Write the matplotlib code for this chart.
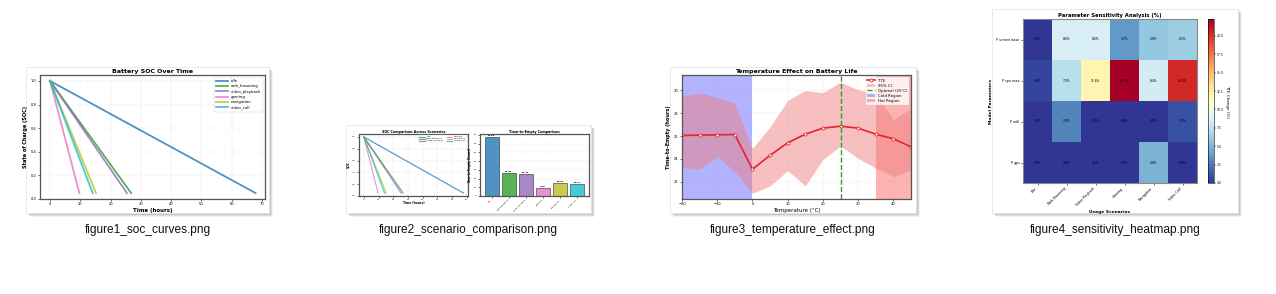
# File browser view with four chart thumbnails
import numpy as np
import matplotlib
matplotlib.use("Agg")
import matplotlib.pyplot as plt
from matplotlib.patches import Rectangle

W, H = 1276, 294

# Data
scenarios = ['idle', 'web_browsing', 'video_playback', 'gaming', 'navigation', 'video_call']
scenario_names = ['Idle', 'Web Browsing', 'Video Playback', 'Gaming', 'Navigation', 'Video Call']
tte_hours = [67.9, 26.8, 25.4, 9.7, 15.2, 14.1]
soc_start = 1.0
soc_end = 0.05
colors = ['#1f77b4', '#2ca02c', '#9467bd', '#e377c2', '#bcbd22', '#17becf']

temps = [-20, -15, -10, -5, 0, 5, 10, 15, 20, 25, 30, 35, 40, 45]
tte_temp = [26.06, 26.09, 26.12, 26.14, 23.1, 24.32, 25.42, 26.17, 26.7, 26.87, 26.7, 26.17, 25.77, 25.07]
ci_high = [29.48, 29.8, 29.36, 28.9, 24.93, 26.81, 29.13, 30.0, 29.8, 30.72, 30.06, 29.71, 27.45, 28.41]
ci_low = [23.25, 23.1, 24.2, 22.9, 21.0, 21.65, 22.99, 21.65, 23.97, 25.13, 24.06, 23.19, 22.46, 23.04]

params = ['P screen base', 'P cpu max', 'P wifi', 'P gps']
sens = [[0.0, 8.6, 8.6, 3.7, 5.8, 6.1],
        [0.6, 7.3, 11.8, 22.3, 8.4, 20.3],
        [0.0, 2.9, 0.0, 0.0, 0.0, 1.0],
        [0.0, 0.0, 0.0, 0.0, 4.8, 0.0]]

files = ['figure1_soc_curves.png', 'figure2_scenario_comparison.png',
         'figure3_temperature_effect.png', 'figure4_sensitivity_heatmap.png']

# thumbnail cards (pixel boxes: left, top, right, bottom)
cards = [(26, 67, 269, 213), (346, 125, 591, 213), (670, 67, 916, 213), (992, 9, 1238, 213)]

fig = plt.figure(figsize=(W / 100, H / 100), dpi=100)
fig.patch.set_facecolor('white')


def frac(x0, y0, x1, y1):
    return [x0 / W, 1 - y1 / H, (x1 - x0) / W, (y1 - y0) / H]


def card(x0, y0, x1, y1):
    for k, a in [(4, 0.05), (3, 0.08), (2, 0.10), (1, 0.12)]:
        fig.add_artist(Rectangle(((x0 + k) / W, 1 - (y1 + k) / H), (x1 - x0) / W, (y1 - y0) / H,
                                 transform=fig.transFigure, facecolor='black', alpha=a,
                                 edgecolor='none', zorder=-3))
    fig.add_artist(Rectangle((x0 / W, 1 - y1 / H), (x1 - x0) / W, (y1 - y0) / H,
                             transform=fig.transFigure, facecolor='white',
                             edgecolor='#e6e6e6', lw=0.6, zorder=-2))


def style(ax, size=2.6):
    ax.tick_params(labelsize=size, length=1.5, width=0.4, pad=1)
    for s in ax.spines.values():
        s.set_color('#555555')
        s.set_linewidth(0.9)
    ax.grid(True, ls='--', lw=0.3, alpha=0.4)


for c in cards:
    card(*c)

# Figure 1: SOC curves
ax1 = fig.add_axes(frac(40, 75, 265, 199))
for name, t_end, c in zip(scenarios, tte_hours, colors):
    ax1.plot([0, t_end], [soc_start, soc_end], color=c, lw=1.3, alpha=0.8, label=name)
ax1.set_xlim(-3.3, 71)
ax1.set_ylim(0, 1.05)
ax1.set_xticks(range(0, 80, 10))
ax1.set_yticks(np.arange(0, 1.01, 0.2))
style(ax1)
ax1.set_title('Battery SOC Over Time', fontsize=4.5, fontweight='bold', pad=1.5)
ax1.set_xlabel('Time (hours)', fontsize=4, fontweight='bold', labelpad=1)
ax1.set_ylabel('State of Charge (SOC)', fontsize=3.6, fontweight='bold', labelpad=2)
ax1.legend(loc='upper right', fontsize=2.8, handlelength=3, frameon=True, borderpad=0.5,
           labelspacing=0.35, framealpha=0.9, edgecolor='#cccccc').get_frame().set_linewidth(0.3)

# Figure 2: scenario comparison
ax2a = fig.add_axes(frac(359, 134, 468, 196))
for name, t_end, c in zip(scenario_names, tte_hours, colors):
    ax2a.plot([0, t_end], [soc_start, soc_end], color=c, lw=0.8, alpha=0.8, label=name)
ax2a.set_xlim(-3.3, 71)
ax2a.set_ylim(0, 1.05)
ax2a.set_xticks(range(0, 80, 10))
ax2a.set_yticks(np.arange(0, 1.01, 0.2))
style(ax2a, 1.6)
ax2a.set_title('SOC Comparison Across Scenarios', fontsize=2.4, fontweight='bold', pad=1)
ax2a.set_xlabel('Time (hours)', fontsize=2.2, fontweight='bold', labelpad=0.5)
ax2a.set_ylabel('SOC', fontsize=2.2, fontweight='bold', labelpad=1)
ax2a.legend(loc='upper right', ncol=2, fontsize=1.6, handlelength=2.5, borderpad=0.3,
            labelspacing=0.2, columnspacing=1.5, edgecolor='#cccccc').get_frame().set_linewidth(0.2)

ax2b = fig.add_axes(frac(480, 134, 589, 196))
xs = np.arange(len(scenario_names))
bars = ax2b.bar(xs, tte_hours, color=colors, alpha=0.8, edgecolor='black', lw=0.4, width=0.8)
for b, v in zip(bars, tte_hours):
    ax2b.text(b.get_x() + b.get_width() / 2, v + 0.5, f'{v:.2f}', ha='center', va='bottom',
              fontsize=1.6, fontweight='bold')
ax2b.set_xticks(xs)
ax2b.set_xticklabels(scenario_names, rotation=45, ha='right')
ax2b.set_ylim(0, 71)
style(ax2b, 1.6)
ax2b.grid(axis='x', visible=False)
ax2b.set_title('Time-to-Empty Comparison', fontsize=2.4, fontweight='bold', pad=1)
ax2b.set_ylabel('Time-to-Empty (hours)', fontsize=2.0, fontweight='bold', labelpad=1)

# Figure 3: temperature effect
ax3 = fig.add_axes(frac(682, 75, 911, 199))
h_cold = ax3.axvspan(-20, 0, color='blue', alpha=0.3, lw=0, label='Cold Region')
h_hot = ax3.axvspan(35, 45, color='red', alpha=0.3, lw=0, label='Hot Region')
h_ci = ax3.fill_between(temps, ci_low, ci_high, color='lightcoral', alpha=0.5, lw=0, label='95% CI')
h_line, = ax3.plot(temps, tte_temp, 'o-', color='#e3262c', lw=1.2, ms=2.2, mfc='white',
                   mec='#e3262c', mew=0.6, label='TTE')
h_opt = ax3.axvline(25, color='#2ca02c', ls='--', lw=1.0, label='Optimal (25°C)')
ax3.set_xlim(-20, 45)
ax3.set_ylim(20.5, 31.35)
ax3.set_xticks(range(-20, 50, 10))
ax3.set_yticks([22, 24, 26, 28, 30])
style(ax3)
ax3.set_title('Temperature Effect on Battery Life', fontsize=4.5, fontweight='bold', pad=1.5)
ax3.set_xlabel('Temperature (°C)', fontsize=4, labelpad=1)
ax3.set_ylabel('Time-to-Empty (hours)', fontsize=3.6, fontweight='bold', labelpad=2)
ax3.legend(handles=[h_line, h_ci, h_opt, h_cold, h_hot], loc='upper right', fontsize=2.8,
           borderpad=0.4, labelspacing=0.3, edgecolor='#cccccc').get_frame().set_linewidth(0.3)

# Figure 4: sensitivity heatmap
ax4 = fig.add_axes(frac(1023, 19, 1197, 183))
vals = np.array(sens)
im = ax4.imshow(vals, cmap='RdYlBu_r', vmin=0, vmax=22.3, aspect='auto')
for i in range(vals.shape[0]):
    for j in range(vals.shape[1]):
        ax4.text(j, i, f'{vals[i, j]:.1f}%', ha='center', va='center', fontsize=2.2)
ax4.set_xticks(range(len(scenario_names)))
ax4.set_xticklabels(scenario_names, rotation=45, ha='right')
ax4.set_yticks(range(len(params)))
ax4.set_yticklabels(params)
ax4.tick_params(labelsize=2.4, length=1.5, width=0.4, pad=1)
for s in ax4.spines.values():
    s.set_color('#888888')
    s.set_linewidth(0.8)
ax4.set_title('Parameter Sensitivity Analysis (%)', fontsize=3.8, fontweight='bold', pad=1.5)
ax4.set_xlabel('Usage Scenarios', fontsize=3.2, fontweight='bold', labelpad=2)
ax4.set_ylabel('Model Parameters', fontsize=3.2, fontweight='bold', labelpad=2)

cax = fig.add_axes(frac(1208, 19, 1214, 183))
cb = fig.colorbar(im, cax=cax)
cb.set_ticks(np.arange(0, 20.1, 2.5))
cb.ax.tick_params(labelsize=2.2, length=1.2, width=0.3, pad=1)
cb.outline.set_linewidth(0.4)
cb.set_label('TTE Change (%)', fontsize=3, rotation=270, labelpad=4)

# file names under thumbnails
for (x0, y0, x1, y1), name in zip(cards, files):
    fig.text((x0 + x1) / 2 / W, 1 - 230 / H, name, ha='center', va='center', fontsize=8.6,
             color='#111111', family=['Liberation Sans', 'DejaVu Sans'])

fig.savefig('out.png', dpi=100, facecolor='white')
